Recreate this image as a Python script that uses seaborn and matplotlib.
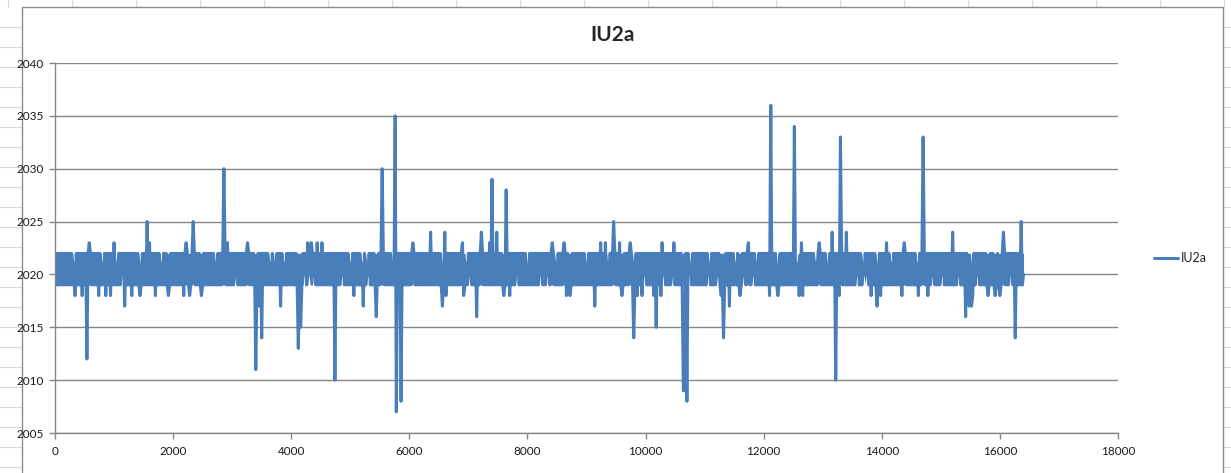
#! /usr/bin/env python3
import matplotlib
matplotlib.use("Agg")
import matplotlib.pyplot as plt
from matplotlib.lines import Line2D
import numpy as np
import pandas as pd
import seaborn as sns

# settings
sns.set_style("white")
plt.rcParams['font.family'] = ['Lato', 'DejaVu Sans']
plt.rcParams['path.simplify'] = False
blue = '#4a7ebb'
grey = '#868686'

# band of the signal (samples 0..16400)
n_last = 16400
step = 20
band_hi = 2022
band_lo = 2019
# x positions where the top of the band only reaches 2021
top_notches = [330, 500, 694, 805, 1033, 1270, 1439, 1795, 1947, 2150, 2421, 2540, 2726,
               2980, 3108, 3218, 3632, 3726, 3878, 4022, 4251, 4700, 4826, 4996, 5207, 5280,
               5340, 5715, 6570, 6960, 7748, 8002, 8484, 8992, 9365, 9500, 9805, 9974, 10211,
               10533, 10753, 11075, 11465, 11515, 11769, 11871, 12227, 12345, 12565, 12887,
               13090, 13680, 13710, 13920, 14157, 14259, 14462, 14605, 14987, 15139, 15512]
# x positions where the bottom of the band only reaches 2020
bottom_notches = [42, 1135, 1677, 2370, 3065, 3387, 3929, 4220, 4300, 4380, 4488, 4860, 5300,
                  5453, 6080, 6401, 6689, 7028, 7366, 7823, 7959, 8078, 8213, 8331, 8518, 9271,
                  9483, 9974, 10296, 10456, 10715, 10745, 11058, 11227, 11651, 11820, 11888,
                  12320, 12582, 12751, 12955, 13124, 13581, 13700, 13740, 14040, 14075, 14276,
                  14597, 14868, 15020, 15156, 15292, 15622, 15876, 16189]

# single-sample excursions out of the band
spike_x = [580, 997, 1566, 1594, 2225, 2338, 2862, 2913, 3256, 4282, 4338, 4434, 4524, 5538,
           5752, 6068, 6352, 6608, 6892, 7222, 7364, 7403, 7477, 7648, 8415, 8625, 9250, 9324,
           9466, 9551, 9750, 10290, 10477, 11325, 11750, 12119, 12517, 12637, 12932, 13152,
           13300, 13395, 14090, 14390, 14695, 15192, 16051, 16362,
           338, 462, 547, 732, 856, 941, 1172, 1296, 1437, 1701, 1916, 2186, 2282, 2479, 3408,
           3459, 3493, 3820, 4113, 4158, 4733, 5059, 5228, 5448, 5775, 5870, 6568, 6625, 6920,
           7136, 7602, 7693, 8670, 8727, 9142, 9608, 9807, 9864, 9932, 10136, 10188, 10268,
           10648, 10665, 10699, 11284, 11313, 11426, 11597, 12108, 12250, 12604, 12665, 13226,
           13282, 13819, 13921, 13989, 14339, 14622, 14780, 15429, 15486, 15514, 15542, 15808,
           15921, 15994, 16266]
spike_y = [2023, 2023, 2025, 2023, 2023, 2025, 2030, 2023, 2023, 2023, 2023, 2023, 2023, 2030,
           2035, 2023, 2024, 2024, 2023, 2024, 2023, 2029, 2024, 2028, 2023, 2023, 2023, 2023,
           2025, 2023, 2023, 2023, 2023, 2025, 2023, 2036, 2034, 2023, 2023, 2024,
           2033, 2024, 2023, 2023, 2033, 2024, 2024, 2025,
           2018, 2018, 2012, 2018, 2018, 2018, 2017, 2018, 2018, 2018, 2018, 2018, 2018, 2018, 2011,
           2017, 2014, 2017, 2013, 2015, 2010, 2018, 2017, 2016, 2007, 2008, 2017, 2018, 2018,
           2016, 2018, 2018, 2018, 2018, 2017, 2018, 2014, 2018, 2018, 2018, 2015, 2018,
           2009, 2009, 2008, 2018, 2014, 2017, 2018, 2018, 2018, 2018, 2018, 2010,
           2018, 2018, 2017, 2018, 2018, 2018, 2018, 2016, 2017, 2017, 2018, 2018,
           2018, 2018, 2014]

# build the trace
xs = np.arange(0, n_last + 1, step)
hi = np.full(len(xs), band_hi, dtype=float)
lo = np.full(len(xs), band_lo, dtype=float)
for c in top_notches:
    hi[np.argmin(np.abs(xs - c))] = band_hi - 1
for c in bottom_notches:
    lo[np.argmin(np.abs(xs - c))] = band_lo + 1
ys = np.where(np.arange(len(xs)) % 2 == 0, hi, lo)
for sx, sy in zip(spike_x, spike_y):
    ys[np.argmin(np.abs(xs - sx))] = sy
ys[-1] = 2020
df = pd.DataFrame({'x': xs, 'IU2a': ys, 'hi': hi, 'lo': lo})

# figure
fig = plt.figure(figsize=(12.31, 4.73), dpi=100)
W, H = 1231, 473

# spreadsheet cells around the chart
cell = '#d9d9d9'
for yy in range(27, H, 20):
    fig.add_artist(Line2D([0, 22/W], [1-yy/H]*2, color=cell, lw=0.8, zorder=-1))
    fig.add_artist(Line2D([1223/W, 1], [1-yy/H]*2, color=cell, lw=0.8, zorder=-1))
for xx in range(8, W, 64):
    fig.add_artist(Line2D([xx/W]*2, [1, 1-7/H], color=cell, lw=0.8, zorder=-1))
fig.add_artist(Line2D([22/W, 22/W, 1223/W, 1223/W], [0, 1-7/H, 1-7/H, 0], color='#8c8c8c',
                      lw=1.0, zorder=-1))

ax = fig.add_axes([55/W, 1-433/H, (1118-55)/W, (433-63)/H])
# dense oscillation reads as a solid band
ax.fill_between(df['x'], df['lo'], df['hi'], color=blue, lw=0)
sns.lineplot(data=df, x='x', y='IU2a', ax=ax, color=blue, lw=2.2, estimator=None,
             sort=False, label='IU2a')
ax.set_xlim(0, 18000)
ax.set_ylim(2005, 2040)
ax.set_xticks(range(0, 18001, 2000))
ax.set_yticks(range(2005, 2041, 5))
ax.yaxis.grid(True, color=grey, lw=1.0)
ax.set_axisbelow(True)
for s in ['top', 'right']:
    ax.spines[s].set_visible(False)
for s in ['left', 'bottom']:
    ax.spines[s].set_color(grey)
    ax.spines[s].set_linewidth(1.0)
ax.tick_params(axis='both', direction='out', length=4, width=1.0, color=grey,
               labelsize=8.5, labelcolor='#1a1a1a', bottom=True, left=True)
ax.tick_params(axis='y', pad=4)
ax.tick_params(axis='x', pad=5)
ax.set_xlabel('')
ax.set_ylabel('')
fig.text(613/W, 1-35/H, 'IU2a', ha='center', va='center', fontsize=15, fontweight='bold')
ax.legend(loc='center left', bbox_to_anchor=(1154/W, 1-258/H), bbox_transform=fig.transFigure,
          frameon=False, handlelength=1.9, handletextpad=0.25, borderpad=0, borderaxespad=0,
          fontsize=9)

fig.savefig('out.png', dpi=100)
plt.close()
